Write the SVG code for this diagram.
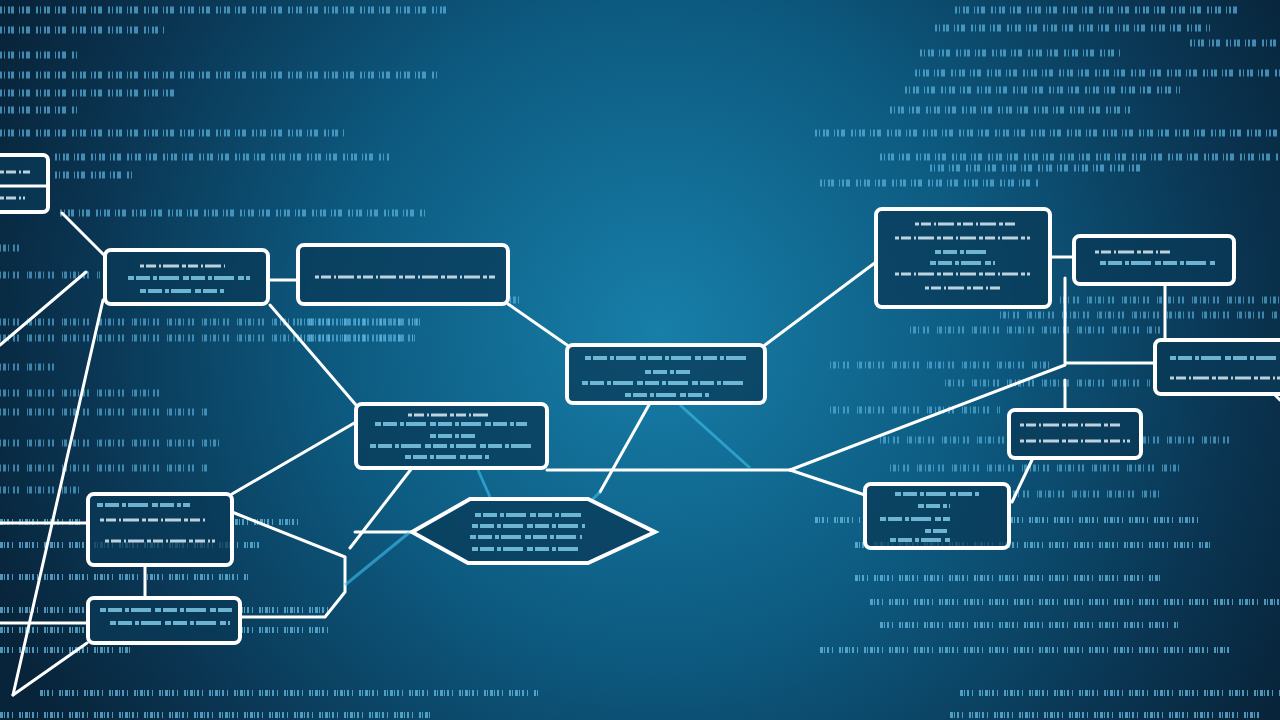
<svg xmlns="http://www.w3.org/2000/svg" width="1280" height="720" viewBox="0 0 1280 720">
<defs>
<radialGradient id="bg" cx="660" cy="330" r="720" gradientUnits="userSpaceOnUse">
<stop offset="0" stop-color="#177fa9"/>
<stop offset="0.45" stop-color="#0d5a80"/>
<stop offset="0.8" stop-color="#0a3552"/>
<stop offset="1" stop-color="#08243a"/>
</radialGradient>
<style>
.n{fill:#0a3a57;fill-opacity:0.75;stroke:#fff;stroke-width:4}
.c{stroke:#fff;stroke-width:3;fill:none;stroke-linecap:round;stroke-linejoin:round}
.f{stroke:#3fc0ee;stroke-width:3;fill:none;opacity:0.6}
.t1{stroke:#5fb8e4;stroke-width:7;fill:none;opacity:0.68;stroke-dasharray:2 2 1 3 2 1 3 5 1 2 2 2 4 6}
.t2{stroke:#5fb8e4;stroke-width:7;fill:none;opacity:0.62;stroke-dasharray:1 2 3 2 1 4 2 2 2 8 1 1 3 3}
.t3{stroke:#6cc4ec;stroke-width:6;fill:none;opacity:0.7;stroke-dasharray:3 1 1 2 2 3 1 6 2 1 1 2}
.i{stroke:#8fdcf8;stroke-width:4;fill:none;opacity:0.75;stroke-dasharray:6 2 14 3 4 2 20 4}
.w{stroke:#e8f8ff;stroke-width:3;fill:none;opacity:0.8;stroke-dasharray:4 2 10 3 2 2 16 3}
</style>
</defs>
<rect width="1280" height="720" fill="url(#bg)"/>

<g id="background-text">
<path class="t1" d="M0 10H450M0 30H165M0 55H80M0 75H440M0 93H180M0 110H80M0 133H345M55 157H390M55 175H135M60 213H425"/>
<path class="t2" d="M0 248H20M0 275H100M510 300H520M0 322H420M0 338H415M0 367H60M0 393H160M0 412H210M0 443H220M0 468H210M0 490H80"/>
<path class="t3" d="M0 522H80M235 522H300M0 545H260M0 577H250M0 610H88M240 610H330M0 630H88M240 630H330M0 650H130M40 693H540M0 715H430"/>
<path class="t1" d="M300 322H420M300 338H415"/>
<path class="t1" d="M955 10H1240M935 28H1210M1190 43H1280M920 53H1120M915 73H1280M905 90H1180M890 110H1130M815 133H1280M880 157H1280M930 168H1140M820 183H1040"/>
<path class="t2" d="M1060 300H1280M1000 315H1280M910 330H1160M830 365H1050M945 383H1150M830 410H1000M880 440H1010M1140 440H1230M890 468H1180M1010 494H1160"/>
<path class="t3" d="M815 520H860M1010 520H1200M855 545H1210M855 578H1160M870 602H1280M880 625H1180M820 650H1230M960 693H1280M950 715H1260"/>
</g>

<g id="connectors">
<path class="c" d="M62 213L104 255"/>
<path class="c" d="M268 280H298"/>
<path class="c" d="M0 345L86 272"/>
<path class="c" d="M270 305L356 405"/>
<path class="c" d="M508 304L567 345"/>
<path class="c" d="M765 345L876 262"/>
<path class="c" d="M650 403L600 492"/>
<path class="c" d="M547 470H790"/>
<path class="c" d="M790 470L1065 365"/>
<path class="c" d="M790 470L865 495"/>
<path class="c" d="M232 494L356 422"/>
<path class="c" d="M412 468L350 548"/>
<path class="c" d="M355 532H410"/>
<path class="c" d="M232 512L345 557V592L325 617H240"/>
<path class="c" d="M145 565V598"/>
<path class="c" d="M0 523H88"/>
<path class="c" d="M0 623H88"/>
<path class="c" d="M13 695L103 300"/>
<path class="c" d="M13 695L87 643"/>
<path class="c" d="M1050 257H1074"/>
<path class="c" d="M1165 284V340"/>
<path class="c" d="M1065 278V363H1155"/>
<path class="c" d="M1065 380V410"/>
<path class="c" d="M1032 460L1012 502"/>
<path class="c" d="M1275 395L1280 400"/>
<path class="f" d="M680 405L750 468"/>
<path class="f" d="M478 470L490 497"/>
<path class="f" d="M345 585L410 532"/>
<path class="f" d="M600 492L592 500"/>
</g>

<g id="node-topleft">
<rect class="n" x="-10" y="155" width="58" height="57" rx="5"/>
<path class="c" d="M-10 186H48"/>
<path class="w" d="M0 172H30M0 198H25"/>
</g>

<g id="node-a">
<rect class="n" x="105" y="250" width="163" height="54" rx="6"/>
<path class="w" d="M140 266H225"/>
<path class="i" d="M128 278H250M140 291H225"/>
</g>

<g id="node-b">
<rect class="n" x="298" y="245" width="210" height="59" rx="6"/>
<path class="w" d="M315 277H495"/>
</g>

<g id="node-c">
<rect class="n" x="567" y="345" width="198" height="58" rx="6"/>
<path class="i" d="M585 358H750M645 372H690M582 383H745M625 395H710"/>
</g>

<g id="node-d">
<rect class="n" x="356" y="404" width="191" height="64" rx="6"/>
<path class="w" d="M408 415H488"/>
<path class="i" d="M375 424H527M430 436H475M370 446H532M405 457H490"/>
</g>

<g id="node-hex">
<polygon class="n" points="412,532 470,499 588,499 655,532 588,563 468,563"/>
<path class="i" d="M475 515H585M472 526H585M470 537H582M472 549H580"/>
</g>

<g id="node-e">
<rect class="n" x="88" y="494" width="144" height="71" rx="6"/>
<path class="i" d="M97 505H190"/>
<path class="w" d="M100 520H205M105 541H215"/>
</g>

<g id="node-f">
<rect class="n" x="88" y="598" width="152" height="45" rx="6"/>
<path class="i" d="M100 610H235M110 623H230"/>
</g>

<g id="node-g">
<rect class="n" x="876" y="209" width="174" height="98" rx="6"/>
<path class="w" d="M915 224H1015M895 238H1030"/>
<path class="i" d="M935 252H990M930 263H995"/>
<path class="w" d="M895 274H1030M925 288H1000"/>
</g>

<g id="node-h">
<rect class="n" x="1074" y="236" width="160" height="48" rx="6"/>
<path class="w" d="M1095 252H1170"/>
<path class="i" d="M1100 263H1215"/>
</g>

<g id="node-i">
<rect class="n" x="1155" y="340" width="135" height="54" rx="6"/>
<path class="i" d="M1170 358H1280"/>
<path class="w" d="M1170 378H1280"/>
</g>

<g id="node-j">
<rect class="n" x="1009" y="410" width="132" height="48" rx="6"/>
<path class="w" d="M1020 425H1120M1020 441H1130"/>
</g>

<g id="node-k">
<rect class="n" x="865" y="484" width="144" height="64" rx="6"/>
<path class="i" d="M895 494H980M918 506H950M880 519H950M925 531H950M890 540H950"/>
</g>
</svg>
